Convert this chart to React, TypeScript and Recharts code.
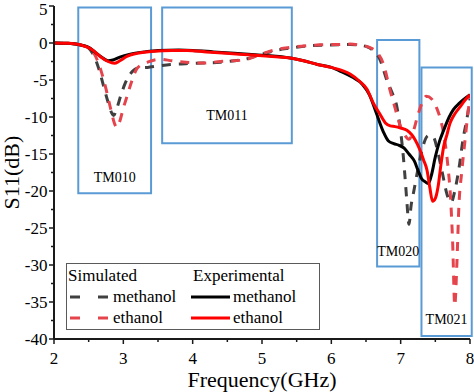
import React from 'react';
import { LineChart, Line, XAxis, YAxis, ReferenceArea, Legend } from 'recharts';

const FONT = '"Liberation Serif", "Times New Roman", Times, serif';

// ---- axis ticks ----
const xTicks = [2, 2.5, 3, 3.5, 4, 4.5, 5, 5.5, 6, 6.5, 7, 7.5, 8];
const yTicks = [-40, -37.5, -35, -32.5, -30, -27.5, -25, -22.5, -20, -17.5, -15, -12.5, -10, -7.5, -5, -2.5, 0, 2.5, 5];

// ---- Simulated methanol ----
const simMethFreq = [2.0, 2.2, 2.4, 2.5, 2.58, 2.65, 2.72, 2.78, 2.83, 2.86, 2.9, 2.96, 3.02, 3.1, 3.2, 3.35, 3.5, 3.68, 3.9, 4.15, 4.4, 4.6, 4.8, 5.0, 5.2, 5.4, 5.6, 5.84, 6.1, 6.27, 6.41, 6.51, 6.6, 6.7, 6.8, 6.88, 6.94, 7.0, 7.04, 7.07, 7.09, 7.12, 7.15, 7.19, 7.25, 7.32, 7.4, 7.47, 7.54, 7.6, 7.67, 7.73, 7.78, 7.84, 7.9, 7.96, 8.0];
const simMethS11 = [0, -0.05, -0.3, -0.7, -1.8, -3.6, -6.0, -8.0, -9.4, -9.8, -9.0, -7.2, -5.6, -4.2, -3.4, -3.3, -3.1, -2.9, -2.8, -2.7, -2.6, -2.4, -2.1, -1.5, -1.0, -0.7, -0.45, -0.3, -0.25, -0.2, -0.3, -0.5, -1.0, -2.2, -5.0, -6.8, -8.4, -12.0, -15.5, -19.0, -21.5, -24.5, -22.0, -20.0, -17.0, -14.0, -12.5, -12.7, -14.9, -17.5, -20.5, -21.5, -20.0, -17.0, -13.0, -10.0, -7.5];

// ---- Simulated ethanol ----
const simEthFreq = [2.0, 2.2, 2.4, 2.52, 2.6, 2.68, 2.75, 2.82, 2.87, 2.9, 2.94, 3.0, 3.06, 3.12, 3.2, 3.35, 3.53, 3.7, 3.9, 4.15, 4.4, 4.73, 5.02, 5.2, 5.4, 5.65, 5.84, 6.1, 6.27, 6.41, 6.55, 6.65, 6.75, 6.85, 6.92, 6.98, 7.05, 7.12, 7.18, 7.24, 7.3, 7.37, 7.45, 7.52, 7.58, 7.63, 7.68, 7.72, 7.75, 7.78, 7.81, 7.84, 7.88, 7.93, 7.97, 8.0];
const simEthS11 = [0, -0.05, -0.3, -0.8, -1.8, -3.8, -6.2, -9.0, -10.8, -11.4, -10.8, -8.8, -7.0, -5.2, -3.4, -2.6, -2.2, -2.4, -2.6, -2.7, -2.5, -2.3, -1.4, -0.9, -0.6, -0.35, -0.25, -0.2, -0.15, -0.3, -0.6, -1.2, -2.8, -6.5, -8.8, -10.8, -12.3, -13.0, -12.0, -10.0, -8.3, -7.2, -7.6, -8.8, -10.5, -12.8, -16.5, -21.0, -27.0, -35.5, -30.0, -22.0, -17.5, -13.0, -9.5, -7.3];

// ---- Experimental methanol ----
const expMethFreq = [2.0, 2.2, 2.4, 2.5, 2.6, 2.7, 2.78, 2.85, 2.95, 3.1, 3.3, 3.5, 3.8, 4.0, 4.3, 4.6, 4.9, 5.2, 5.45, 5.6, 5.8, 6.0, 6.15, 6.3, 6.45, 6.55, 6.65, 6.75, 6.82, 6.9, 6.97, 7.05, 7.12, 7.2, 7.25, 7.3, 7.36, 7.4, 7.44, 7.5, 7.56, 7.62, 7.7, 7.76, 7.84, 7.9, 8.0];
const expMethS11 = [0, -0.05, -0.3, -0.6, -1.3, -2.0, -2.4, -2.3, -1.9, -1.5, -1.2, -1.0, -0.95, -1.0, -1.2, -1.4, -1.6, -1.8, -2.1, -2.4, -2.9, -3.3, -3.9, -4.6, -5.6, -7.0, -9.5, -12.0, -13.2, -13.6, -13.8, -14.2, -15.0, -16.0, -17.2, -18.3, -18.8, -19.0, -18.0, -15.4, -13.3, -11.8, -10.0, -9.0, -8.2, -7.7, -7.0];

// ---- Experimental ethanol ----
const expEthFreq = [2.0, 2.2, 2.4, 2.55, 2.67, 2.78, 2.87, 2.95, 3.05, 3.2, 3.44, 3.7, 3.92, 4.2, 4.49, 4.8, 5.1, 5.45, 5.6, 5.8, 6.0, 6.27, 6.41, 6.51, 6.61, 6.7, 6.78, 6.85, 6.92, 7.0, 7.09, 7.16, 7.21, 7.28, 7.33, 7.38, 7.42, 7.46, 7.5, 7.54, 7.58, 7.62, 7.67, 7.71, 7.78, 7.86, 7.93, 8.0];
const expEthS11 = [0, -0.05, -0.3, -0.9, -1.85, -2.5, -2.75, -2.4, -1.8, -1.4, -1.1, -1.0, -1.0, -1.2, -1.4, -1.6, -1.8, -2.1, -2.4, -2.9, -3.3, -4.2, -5.2, -6.2, -8.2, -9.6, -10.8, -11.2, -11.3, -11.5, -11.8, -12.4, -13.1, -14.5, -15.8, -17.2, -19.5, -21.4, -21.0, -19.4, -16.5, -14.0, -12.3, -10.9, -9.6, -8.6, -7.7, -7.0];

// ---- Mode boxes ----
const modeNames = ['TM010', 'TM011', 'TM020', 'TM021'];
const modeX1 = [2.35, 3.56, 6.66, 7.3];
const modeX2 = [3.4, 5.43, 7.27, 8.025];
const modeTop = [4.8, 4.8, 0.4, -3.3];
const modeBottom = [-20.3, -13.55, -30.2, -39.6];
const modeLabelOffset = [11, 23, 10, 12];

const zip = (xs: number[], ys: number[]) => xs.map((x, i) => ({ x, y: ys[i] }));

const simMeth = zip(simMethFreq, simMethS11);
const simEth = zip(simEthFreq, simEthS11);
const expMeth = zip(expMethFreq, expMethS11);
const expEth = zip(expEthFreq, expEthS11);

const AXIS = '#1a1a1a';
const GRAY_DASH = '#404040';
const RED_DASH = '#e5444c';
const BLUE = '#5b9bd5';

const XTick = (props: any) => {
  const { x, y, payload } = props;
  const v = payload.value as number;
  const major = Number.isInteger(v);
  return (
    <g>
      <line x1={x} x2={x} y1={y} y2={y + (major ? 5 : 3)} stroke={AXIS} strokeWidth={1.5} />
      {major && (
        <text x={x} y={y + 25} textAnchor="middle" fontSize={17} fontFamily={FONT} fill="#000">
          {v}
        </text>
      )}
    </g>
  );
};

const YTick = (props: any) => {
  const { x, y, payload } = props;
  const v = payload.value as number;
  const major = v % 5 === 0;
  const baseline = Math.max(y + 6, 15);
  return (
    <g>
      <line x1={x} x2={x - (major ? 5 : 3)} y1={y} y2={y} stroke={AXIS} strokeWidth={1.5} />
      {major && (
        <text x={x - 6.5} y={baseline} textAnchor="end" fontSize={17} fontFamily={FONT} fill="#000">
          {v}
        </text>
      )}
    </g>
  );
};

const YTitle = (props: any) => {
  const vb = props.viewBox || { x: 0, y: 6, width: 54, height: 333 };
  const cx = vb.x + 19;
  const cy = vb.y + vb.height / 2;
  return (
    <text x={cx} y={cy} transform={`rotate(-90 ${cx} ${cy})`} textAnchor="middle" fontSize={22} fontFamily={FONT} fill="#000">
      S11(dB)
    </text>
  );
};

const XTitle = (props: any) => {
  const vb = props.viewBox || { x: 54, y: 339, width: 416, height: 53 };
  return (
    <text x={vb.x + vb.width / 2} y={vb.y + 48} textAnchor="middle" fontSize={22} fontFamily={FONT} fill="#000">
      Frequency(GHz)
    </text>
  );
};

const LegendBox = () => (
  <svg width={256} height={68} style={{ display: 'block' }}>
    <rect x={0.5} y={0.5} width={253} height={66} fill="#fff" stroke="#5a5a5a" strokeWidth={1} />
    <g fontFamily={FONT} fontSize={17} fill="#000">
      <text x={2} y={18}>Simulated</text>
      <text x={127} y={18}>Experimental</text>
      <line x1={4} x2={43} y1={34} y2={34} stroke={GRAY_DASH} strokeWidth={3} strokeDasharray="10 18" />
      <text x={47} y={38.5}>methanol</text>
      <line x1={4} x2={43} y1={55} y2={55} stroke={RED_DASH} strokeWidth={3} strokeDasharray="10 18" />
      <text x={47} y={60}>ethanol</text>
      <line x1={125} x2={164} y1={34} y2={34} stroke="#000" strokeWidth={3} />
      <text x={167} y={38.5}>methanol</text>
      <line x1={125} x2={164} y1={55} y2={55} stroke="#ff0000" strokeWidth={3} />
      <text x={167} y={60}>ethanol</text>
    </g>
  </svg>
);

export default function App() {
  return (
    <div style={{ position: 'absolute', left: 0, top: 0, background: '#fff' }}>
      <LineChart width={474} height={392} margin={{ top: 6, right: 4, bottom: 0, left: 0 }}>
        <XAxis
          type="number"
          dataKey="x"
          domain={[2, 8]}
          ticks={xTicks}
          interval={0}
          allowDataOverflow
          height={53}
          tickSize={0}
          tickMargin={0}
          tickLine={false}
          axisLine={{ stroke: AXIS, strokeWidth: 2 }}
          tick={XTick}
          label={<XTitle />}
        />
        <YAxis
          type="number"
          domain={[-40, 5]}
          ticks={yTicks}
          interval={0}
          allowDataOverflow
          width={54}
          tickSize={0}
          tickMargin={0}
          tickLine={false}
          axisLine={{ stroke: AXIS, strokeWidth: 2 }}
          tick={YTick}
          label={<YTitle />}
        />
        {modeNames.map((name, i) => (
          <ReferenceArea
            key={name}
            x1={modeX1[i]}
            x2={modeX2[i]}
            y1={modeBottom[i]}
            y2={modeTop[i]}
            ifOverflow="visible"
            fill="none"
            fillOpacity={0}
            stroke={BLUE}
            strokeWidth={2}
            label={{ value: name, position: 'insideBottom', offset: modeLabelOffset[i], fill: '#000', fontSize: 14, fontFamily: FONT }}
          />
        ))}
        <Line data={simMeth} dataKey="y" type="monotone" stroke={GRAY_DASH} strokeWidth={3} strokeDasharray="9 8" dot={false} activeDot={false} isAnimationActive={false} legendType="none" />
        <Line data={simEth} dataKey="y" type="monotone" stroke={RED_DASH} strokeWidth={3} strokeDasharray="9 8" strokeDashoffset={9} dot={false} activeDot={false} isAnimationActive={false} legendType="none" />
        <Line data={expMeth} dataKey="y" type="monotone" stroke="#000" strokeWidth={3} dot={false} activeDot={false} isAnimationActive={false} legendType="none" />
        <Line data={expEth} dataKey="y" type="monotone" stroke="#ff0000" strokeWidth={3} dot={false} activeDot={false} isAnimationActive={false} legendType="none" />
        <Legend
          layout="vertical"
          align="center"
          verticalAlign="middle"
          content={() => <LegendBox />}
          wrapperStyle={{ left: 66, top: 263, width: 256, height: 68, margin: 0, padding: 0 }}
        />
      </LineChart>
    </div>
  );
}
